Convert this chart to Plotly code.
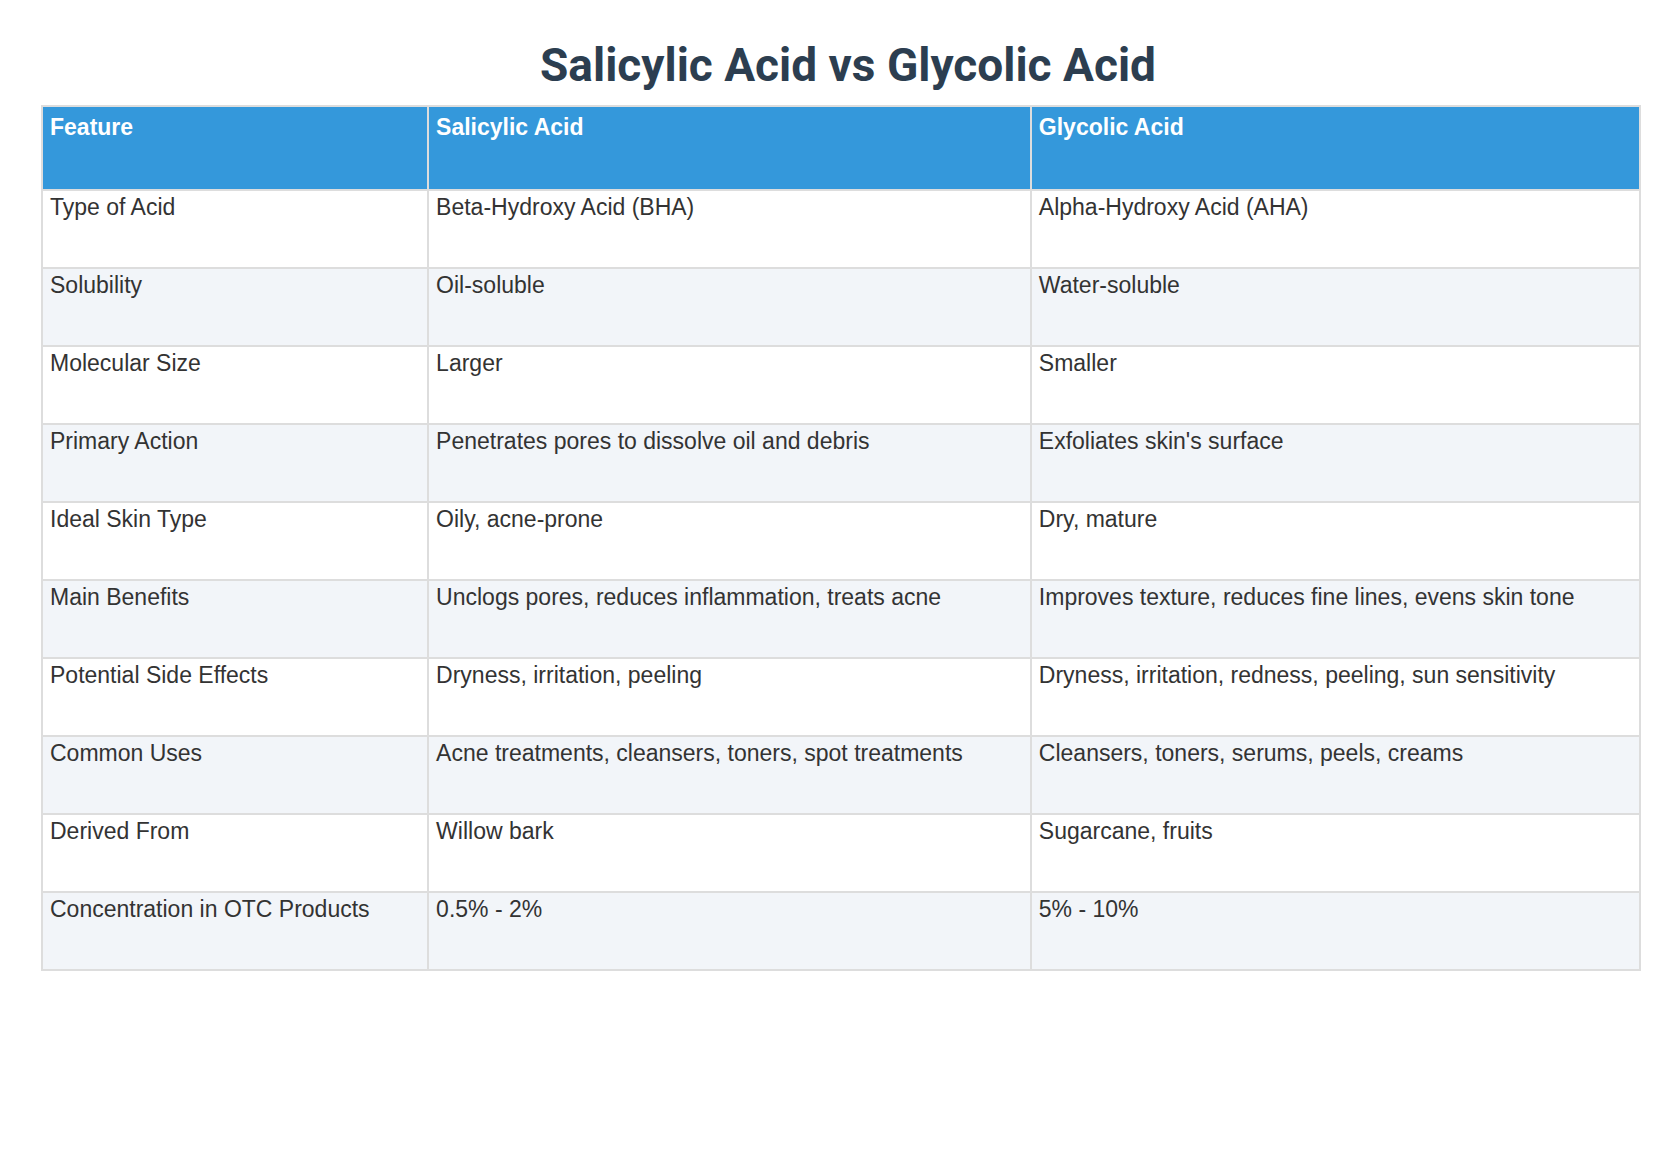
import plotly.graph_objects as go

headers = ["Feature", "Salicylic Acid", "Glycolic Acid"]
features = ["Type of Acid", "Solubility", "Molecular Size", "Primary Action", "Ideal Skin Type",
            "Main Benefits", "Potential Side Effects", "Common Uses", "Derived From",
            "Concentration in OTC Products"]
salicylic = ["Beta-Hydroxy Acid (BHA)", "Oil-soluble", "Larger", "Penetrates pores to dissolve oil and debris",
             "Oily, acne-prone", "Unclogs pores, reduces inflammation, treats acne", "Dryness, irritation, peeling",
             "Acne treatments, cleansers, toners, spot treatments", "Willow bark", "0.5% - 2%"]
glycolic = ["Alpha-Hydroxy Acid (AHA)", "Water-soluble", "Smaller", "Exfoliates skin's surface", "Dry, mature",
            "Improves texture, reduces fine lines, evens skin tone",
            "Dryness, irritation, redness, peeling, sun sensitivity",
            "Cleansers, toners, serums, peels, creams", "Sugarcane, fruits", "5% - 10%"]

row_colors = ["#ffffff" if i % 2 == 0 else "#f2f5f9" for i in range(len(features))]

fig = go.Figure(go.Table(
    columnwidth=[360, 562, 568],
    header=dict(values=[f"<b>{h}</b>" for h in headers], fill_color="#3498db",
                font=dict(color="white", size=23, family="Arial"), align="left",
                height=84, line=dict(color="#dddddd", width=2)),
    cells=dict(values=[features, salicylic, glycolic], fill_color=[row_colors] * 3,
               font=dict(color="#333333", size=23, family="Arial"), align="left",
               height=78, line=dict(color="#dddddd", width=2)),
))
fig.update_layout(
    title=dict(text="<b>Salicylic Acid vs Glycolic Acid</b>", x=0.5, y=0.965,
               font=dict(size=46, color="#2c3e50", family="Roboto")),
    width=1680, height=1164, margin=dict(l=34, r=48, t=98, b=20),
    paper_bgcolor="white",
)
fig.write_html("out.html")
